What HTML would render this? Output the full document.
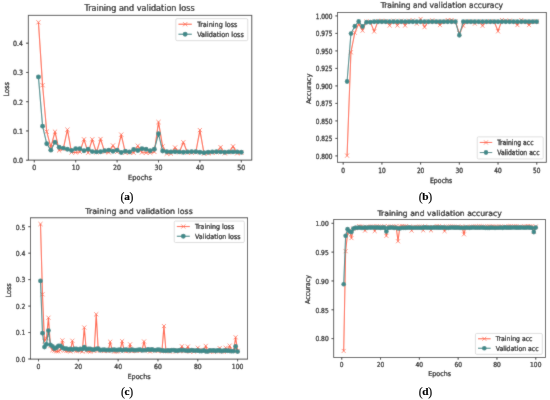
<!DOCTYPE html>
<html lang="en">
<head>
<meta charset="utf-8">
<title>Training and validation curves</title>
<style>
html,body{margin:0;padding:0;background:#fff;}
body{width:550px;height:400px;overflow:hidden;}
svg{display:block;}
</style>
</head>
<body>
<svg width="550" height="400" viewBox="0 0 550 400">
<defs><filter id="soft" x="0" y="0" width="100%" height="100%" filterUnits="userSpaceOnUse"><feConvolveMatrix order="3" kernelMatrix="0.02 0.07 0.02 0.07 0.64 0.07 0.02 0.07 0.02" edgeMode="duplicate" preserveAlpha="true"/></filter></defs>
<rect width="550" height="400" fill="#fff"/>
<g filter="url(#soft)">
<rect width="550" height="400" fill="#fff"/>
<g>
<polyline points="38.44,22.32 42.58,85.2 46.72,131.71 50.86,147.21 55,131.71 59.14,150.43 63.28,148.97 67.42,129.66 71.56,152.48 75.7,152.48 79.84,151.89 83.98,139.32 88.12,152.77 92.26,139.32 96.4,152.48 100.54,139.02 104.68,151.89 108.82,152.48 112.96,145.46 117.1,151.89 121.24,134.64 125.38,152.77 129.52,152.77 133.66,152.77 137.8,145.75 141.94,152.48 146.08,152.77 150.22,152.77 154.36,151.89 158.5,122.06 162.64,146.34 166.78,153.65 170.92,153.65 175.06,147.51 179.2,152.48 183.34,142.24 187.48,152.77 191.62,152.77 195.76,152.48 199.9,130.1 204.04,153.65 208.18,153.36 212.32,152.77 216.46,152.48 220.6,147.21 224.74,153.36 228.88,152.48 233.02,146.34 237.16,153.36 241.3,152.77" fill="none" stroke="#FF6347" stroke-width="1.15" stroke-linejoin="round"/>
<path d="M36.36 20.23l4.16 4.16m-4.16 0l4.16 -4.16M40.5 83.12l4.16 4.16m-4.16 0l4.16 -4.16M44.64 129.63l4.16 4.16m-4.16 0l4.16 -4.16M48.78 145.13l4.16 4.16m-4.16 0l4.16 -4.16M52.92 129.63l4.16 4.16m-4.16 0l4.16 -4.16M57.06 148.35l4.16 4.16m-4.16 0l4.16 -4.16M61.2 146.89l4.16 4.16m-4.16 0l4.16 -4.16M65.34 127.58l4.16 4.16m-4.16 0l4.16 -4.16M69.48 150.4l4.16 4.16m-4.16 0l4.16 -4.16M73.62 150.4l4.16 4.16m-4.16 0l4.16 -4.16M77.76 149.81l4.16 4.16m-4.16 0l4.16 -4.16M81.9 137.23l4.16 4.16m-4.16 0l4.16 -4.16M86.04 150.69l4.16 4.16m-4.16 0l4.16 -4.16M90.18 137.23l4.16 4.16m-4.16 0l4.16 -4.16M94.32 150.4l4.16 4.16m-4.16 0l4.16 -4.16M98.46 136.94l4.16 4.16m-4.16 0l4.16 -4.16M102.6 149.81l4.16 4.16m-4.16 0l4.16 -4.16M106.74 150.4l4.16 4.16m-4.16 0l4.16 -4.16M110.88 143.38l4.16 4.16m-4.16 0l4.16 -4.16M115.02 149.81l4.16 4.16m-4.16 0l4.16 -4.16M119.16 132.55l4.16 4.16m-4.16 0l4.16 -4.16M123.3 150.69l4.16 4.16m-4.16 0l4.16 -4.16M127.44 150.69l4.16 4.16m-4.16 0l4.16 -4.16M131.58 150.69l4.16 4.16m-4.16 0l4.16 -4.16M135.72 143.67l4.16 4.16m-4.16 0l4.16 -4.16M139.86 150.4l4.16 4.16m-4.16 0l4.16 -4.16M144 150.69l4.16 4.16m-4.16 0l4.16 -4.16M148.14 150.69l4.16 4.16m-4.16 0l4.16 -4.16M152.28 149.81l4.16 4.16m-4.16 0l4.16 -4.16M156.42 119.98l4.16 4.16m-4.16 0l4.16 -4.16M160.56 144.25l4.16 4.16m-4.16 0l4.16 -4.16M164.7 151.57l4.16 4.16m-4.16 0l4.16 -4.16M168.84 151.57l4.16 4.16m-4.16 0l4.16 -4.16M172.98 145.42l4.16 4.16m-4.16 0l4.16 -4.16M177.12 150.4l4.16 4.16m-4.16 0l4.16 -4.16M181.26 140.16l4.16 4.16m-4.16 0l4.16 -4.16M185.4 150.69l4.16 4.16m-4.16 0l4.16 -4.16M189.54 150.69l4.16 4.16m-4.16 0l4.16 -4.16M193.68 150.4l4.16 4.16m-4.16 0l4.16 -4.16M197.82 128.02l4.16 4.16m-4.16 0l4.16 -4.16M201.96 151.57l4.16 4.16m-4.16 0l4.16 -4.16M206.1 151.27l4.16 4.16m-4.16 0l4.16 -4.16M210.24 150.69l4.16 4.16m-4.16 0l4.16 -4.16M214.38 150.4l4.16 4.16m-4.16 0l4.16 -4.16M218.52 145.13l4.16 4.16m-4.16 0l4.16 -4.16M222.66 151.27l4.16 4.16m-4.16 0l4.16 -4.16M226.8 150.4l4.16 4.16m-4.16 0l4.16 -4.16M230.94 144.25l4.16 4.16m-4.16 0l4.16 -4.16M235.08 151.27l4.16 4.16m-4.16 0l4.16 -4.16M239.22 150.69l4.16 4.16m-4.16 0l4.16 -4.16" stroke="#FF6347" stroke-width="0.77" fill="none"/>
<polyline points="38.44,77.01 42.58,126.15 46.72,143.7 50.86,150.14 55,142.24 59.14,147.21 63.28,148.09 67.42,149.26 71.56,150.43 75.7,148.82 79.84,148.82 83.98,150.72 88.12,149.26 92.26,151.6 96.4,151.89 100.54,151.75 104.68,150.72 108.82,150.14 112.96,151.31 117.1,150.14 121.24,152.48 125.38,151.31 129.52,151.89 133.66,149.55 137.8,150.43 141.94,148.82 146.08,149.26 150.22,150.72 154.36,149.26 158.5,133.76 162.64,151.02 166.78,151.75 170.92,151.89 175.06,151.75 179.2,151.89 183.34,152.19 187.48,151.89 191.62,151.75 195.76,151.75 199.9,152.19 204.04,152.77 208.18,152.19 212.32,151.89 216.46,151.75 220.6,151.89 224.74,152.19 228.88,151.89 233.02,151.89 237.16,151.89 241.3,152.19" fill="none" stroke="#3F8A8A" stroke-width="1.15" stroke-linejoin="round"/>
<g fill="#3F8A8A">
<ellipse cx="38.44" cy="77.01" rx="2.46" ry="2.46"/>
<ellipse cx="42.58" cy="126.15" rx="2.46" ry="2.46"/>
<ellipse cx="46.72" cy="143.7" rx="2.46" ry="2.46"/>
<ellipse cx="50.86" cy="150.14" rx="2.46" ry="2.46"/>
<ellipse cx="55" cy="142.24" rx="2.46" ry="2.46"/>
<ellipse cx="59.14" cy="147.21" rx="2.46" ry="2.46"/>
<ellipse cx="63.28" cy="148.09" rx="2.46" ry="2.46"/>
<ellipse cx="67.42" cy="149.26" rx="2.46" ry="2.46"/>
<ellipse cx="71.56" cy="150.43" rx="2.46" ry="2.46"/>
<ellipse cx="75.7" cy="148.82" rx="2.46" ry="2.46"/>
<ellipse cx="79.84" cy="148.82" rx="2.46" ry="2.46"/>
<ellipse cx="83.98" cy="150.72" rx="2.46" ry="2.46"/>
<ellipse cx="88.12" cy="149.26" rx="2.46" ry="2.46"/>
<ellipse cx="92.26" cy="151.6" rx="2.46" ry="2.46"/>
<ellipse cx="96.4" cy="151.89" rx="2.46" ry="2.46"/>
<ellipse cx="100.54" cy="151.75" rx="2.46" ry="2.46"/>
<ellipse cx="104.68" cy="150.72" rx="2.46" ry="2.46"/>
<ellipse cx="108.82" cy="150.14" rx="2.46" ry="2.46"/>
<ellipse cx="112.96" cy="151.31" rx="2.46" ry="2.46"/>
<ellipse cx="117.1" cy="150.14" rx="2.46" ry="2.46"/>
<ellipse cx="121.24" cy="152.48" rx="2.46" ry="2.46"/>
<ellipse cx="125.38" cy="151.31" rx="2.46" ry="2.46"/>
<ellipse cx="129.52" cy="151.89" rx="2.46" ry="2.46"/>
<ellipse cx="133.66" cy="149.55" rx="2.46" ry="2.46"/>
<ellipse cx="137.8" cy="150.43" rx="2.46" ry="2.46"/>
<ellipse cx="141.94" cy="148.82" rx="2.46" ry="2.46"/>
<ellipse cx="146.08" cy="149.26" rx="2.46" ry="2.46"/>
<ellipse cx="150.22" cy="150.72" rx="2.46" ry="2.46"/>
<ellipse cx="154.36" cy="149.26" rx="2.46" ry="2.46"/>
<ellipse cx="158.5" cy="133.76" rx="2.46" ry="2.46"/>
<ellipse cx="162.64" cy="151.02" rx="2.46" ry="2.46"/>
<ellipse cx="166.78" cy="151.75" rx="2.46" ry="2.46"/>
<ellipse cx="170.92" cy="151.89" rx="2.46" ry="2.46"/>
<ellipse cx="175.06" cy="151.75" rx="2.46" ry="2.46"/>
<ellipse cx="179.2" cy="151.89" rx="2.46" ry="2.46"/>
<ellipse cx="183.34" cy="152.19" rx="2.46" ry="2.46"/>
<ellipse cx="187.48" cy="151.89" rx="2.46" ry="2.46"/>
<ellipse cx="191.62" cy="151.75" rx="2.46" ry="2.46"/>
<ellipse cx="195.76" cy="151.75" rx="2.46" ry="2.46"/>
<ellipse cx="199.9" cy="152.19" rx="2.46" ry="2.46"/>
<ellipse cx="204.04" cy="152.77" rx="2.46" ry="2.46"/>
<ellipse cx="208.18" cy="152.19" rx="2.46" ry="2.46"/>
<ellipse cx="212.32" cy="151.89" rx="2.46" ry="2.46"/>
<ellipse cx="216.46" cy="151.75" rx="2.46" ry="2.46"/>
<ellipse cx="220.6" cy="151.89" rx="2.46" ry="2.46"/>
<ellipse cx="224.74" cy="152.19" rx="2.46" ry="2.46"/>
<ellipse cx="228.88" cy="151.89" rx="2.46" ry="2.46"/>
<ellipse cx="233.02" cy="151.89" rx="2.46" ry="2.46"/>
<ellipse cx="237.16" cy="151.89" rx="2.46" ry="2.46"/>
<ellipse cx="241.3" cy="152.19" rx="2.46" ry="2.46"/>
</g>
<rect x="28.3" y="15.3" width="223.5" height="144.8" fill="none" stroke="#1a1a1a" stroke-width="0.8"/>
<path d="M34.3 160.1v2.33M75.7 160.1v2.33M117.1 160.1v2.33M158.5 160.1v2.33M199.9 160.1v2.33M241.3 160.1v2.33M28.3 160.2h-2.33M28.3 130.95h-2.33M28.3 101.7h-2.33M28.3 72.45h-2.33M28.3 43.2h-2.33" stroke="#000" stroke-width="0.8" fill="none"/>
<rect x="175.81" y="18.64" width="71.95" height="22.01" rx="1.33" fill="#fff" fill-opacity="0.8" stroke="#ccc" stroke-width="0.67"/>
<path d="M178.48 24.24H191.82" stroke="#FF6347" stroke-width="1.15"/>
<path d="M183.07 22.16l4.16 4.16m-4.16 0l4.16 -4.16" stroke="#FF6347" stroke-width="0.77" fill="none"/>
<path d="M178.48 34.24H191.82" stroke="#3F8A8A" stroke-width="1.15"/>
<ellipse cx="185.15" cy="34.24" rx="2.46" ry="2.46" fill="#3F8A8A"/>
</g>
<g font-family="'DejaVu Sans', 'Liberation Sans', sans-serif" fill="#000" stroke="#000" stroke-width="0.22">
<text transform="translate(34.3 170.32) scale(0.940 1.080)" font-size="6.67" text-anchor="middle">0</text>
<text transform="translate(75.7 170.32) scale(0.940 1.080)" font-size="6.67" text-anchor="middle">10</text>
<text transform="translate(117.1 170.32) scale(0.940 1.080)" font-size="6.67" text-anchor="middle">20</text>
<text transform="translate(158.5 170.32) scale(0.940 1.080)" font-size="6.67" text-anchor="middle">30</text>
<text transform="translate(199.9 170.32) scale(0.940 1.080)" font-size="6.67" text-anchor="middle">40</text>
<text transform="translate(241.3 170.32) scale(0.940 1.080)" font-size="6.67" text-anchor="middle">50</text>
<text transform="translate(23.03 163.13) scale(0.940 1.080)" font-size="6.67" text-anchor="end">0.0</text>
<text transform="translate(23.03 133.88) scale(0.940 1.080)" font-size="6.67" text-anchor="end">0.1</text>
<text transform="translate(23.03 104.63) scale(0.940 1.080)" font-size="6.67" text-anchor="end">0.2</text>
<text transform="translate(23.03 75.38) scale(0.940 1.080)" font-size="6.67" text-anchor="end">0.3</text>
<text transform="translate(23.03 46.13) scale(0.940 1.080)" font-size="6.67" text-anchor="end">0.4</text>
<text transform="translate(139.55 11.3)" font-size="8.08" text-anchor="middle">Training and validation loss</text>
<text transform="translate(140.05 180.11) scale(1.000 1.080)" font-size="6.67" text-anchor="middle">Epochs</text>
<text transform="translate(8.96 89.3) rotate(-90) scale(1.000 1.080)" font-size="6.67" text-anchor="middle">Loss</text>
<text transform="translate(197.16 26.71) scale(0.975 1.080)" font-size="6.67">Training loss</text>
<text transform="translate(197.16 36.71) scale(0.975 1.080)" font-size="6.67">Validation loss</text>
</g>
<g>
<polyline points="347.07,155.62 350.94,52.3 354.81,32.7 358.68,23.88 362.56,30.6 366.43,21.5 370.3,21.85 374.17,31.44 378.04,21.15 381.91,20.8 385.78,21.15 389.65,25.49 393.52,20.8 397.39,25.49 401.26,20.8 405.14,25.49 409.01,20.8 412.88,20.45 416.75,23.6 420.62,19.05 424.49,27.1 428.36,21.5 432.23,20.45 436.1,21.5 439.98,25 443.85,21.5 447.72,20.1 451.59,20.1 455.46,21.5 459.33,33.4 463.2,25.7 467.07,21.5 470.94,21.5 474.81,23.6 478.69,21.5 482.56,25.7 486.43,21.5 490.3,21.5 494.17,21.5 498.04,31.3 501.91,20.1 505.78,20.8 509.65,20.8 513.52,21.5 517.39,25 521.27,20.1 525.14,21.5 529.01,25 532.88,21.5 536.75,21.5" fill="none" stroke="#FF6347" stroke-width="1.08" stroke-linejoin="round"/>
<path d="M345.13 153.53l3.89 4.18m-3.89 0l3.89 -4.18M349 50.21l3.89 4.18m-3.89 0l3.89 -4.18M352.87 30.61l3.89 4.18m-3.89 0l3.89 -4.18M356.74 21.79l3.89 4.18m-3.89 0l3.89 -4.18M360.61 28.51l3.89 4.18m-3.89 0l3.89 -4.18M364.48 19.41l3.89 4.18m-3.89 0l3.89 -4.18M368.35 19.76l3.89 4.18m-3.89 0l3.89 -4.18M372.22 29.35l3.89 4.18m-3.89 0l3.89 -4.18M376.09 19.06l3.89 4.18m-3.89 0l3.89 -4.18M379.96 18.71l3.89 4.18m-3.89 0l3.89 -4.18M383.84 19.06l3.89 4.18m-3.89 0l3.89 -4.18M387.71 23.4l3.89 4.18m-3.89 0l3.89 -4.18M391.58 18.71l3.89 4.18m-3.89 0l3.89 -4.18M395.45 23.4l3.89 4.18m-3.89 0l3.89 -4.18M399.32 18.71l3.89 4.18m-3.89 0l3.89 -4.18M403.19 23.4l3.89 4.18m-3.89 0l3.89 -4.18M407.06 18.71l3.89 4.18m-3.89 0l3.89 -4.18M410.93 18.36l3.89 4.18m-3.89 0l3.89 -4.18M414.8 21.51l3.89 4.18m-3.89 0l3.89 -4.18M418.67 16.96l3.89 4.18m-3.89 0l3.89 -4.18M422.55 25.01l3.89 4.18m-3.89 0l3.89 -4.18M426.42 19.41l3.89 4.18m-3.89 0l3.89 -4.18M430.29 18.36l3.89 4.18m-3.89 0l3.89 -4.18M434.16 19.41l3.89 4.18m-3.89 0l3.89 -4.18M438.03 22.91l3.89 4.18m-3.89 0l3.89 -4.18M441.9 19.41l3.89 4.18m-3.89 0l3.89 -4.18M445.77 18.01l3.89 4.18m-3.89 0l3.89 -4.18M449.64 18.01l3.89 4.18m-3.89 0l3.89 -4.18M453.51 19.41l3.89 4.18m-3.89 0l3.89 -4.18M457.38 31.31l3.89 4.18m-3.89 0l3.89 -4.18M461.26 23.61l3.89 4.18m-3.89 0l3.89 -4.18M465.13 19.41l3.89 4.18m-3.89 0l3.89 -4.18M469 19.41l3.89 4.18m-3.89 0l3.89 -4.18M472.87 21.51l3.89 4.18m-3.89 0l3.89 -4.18M476.74 19.41l3.89 4.18m-3.89 0l3.89 -4.18M480.61 23.61l3.89 4.18m-3.89 0l3.89 -4.18M484.48 19.41l3.89 4.18m-3.89 0l3.89 -4.18M488.35 19.41l3.89 4.18m-3.89 0l3.89 -4.18M492.22 19.41l3.89 4.18m-3.89 0l3.89 -4.18M496.09 29.21l3.89 4.18m-3.89 0l3.89 -4.18M499.97 18.01l3.89 4.18m-3.89 0l3.89 -4.18M503.84 18.71l3.89 4.18m-3.89 0l3.89 -4.18M507.71 18.71l3.89 4.18m-3.89 0l3.89 -4.18M511.58 19.41l3.89 4.18m-3.89 0l3.89 -4.18M515.45 22.91l3.89 4.18m-3.89 0l3.89 -4.18M519.32 18.01l3.89 4.18m-3.89 0l3.89 -4.18M523.19 19.41l3.89 4.18m-3.89 0l3.89 -4.18M527.06 22.91l3.89 4.18m-3.89 0l3.89 -4.18M530.93 19.41l3.89 4.18m-3.89 0l3.89 -4.18M534.8 19.41l3.89 4.18m-3.89 0l3.89 -4.18" stroke="#FF6347" stroke-width="0.72" fill="none"/>
<polyline points="347.07,81.42 350.94,33.61 354.81,26.26 358.68,21.43 362.56,26.4 366.43,22.2 370.3,22.2 374.17,21.85 378.04,21.85 381.91,21.85 385.78,21.85 389.65,21.85 393.52,21.85 397.39,21.85 401.26,21.85 405.14,21.85 409.01,21.85 412.88,21.85 416.75,21.85 420.62,21.85 424.49,21.85 428.36,21.85 432.23,21.85 436.1,21.85 439.98,21.85 443.85,21.85 447.72,21.85 451.59,21.85 455.46,21.85 459.33,35.22 463.2,21.85 467.07,21.85 470.94,21.85 474.81,21.85 478.69,21.85 482.56,21.85 486.43,21.85 490.3,21.85 494.17,21.85 498.04,21.85 501.91,21.85 505.78,21.85 509.65,21.85 513.52,21.85 517.39,21.85 521.27,21.85 525.14,21.85 529.01,21.85 532.88,21.85 536.75,21.85" fill="none" stroke="#3F8A8A" stroke-width="1.08" stroke-linejoin="round"/>
<g fill="#3F8A8A">
<ellipse cx="347.07" cy="81.42" rx="2.3" ry="2.48"/>
<ellipse cx="350.94" cy="33.61" rx="2.3" ry="2.48"/>
<ellipse cx="354.81" cy="26.26" rx="2.3" ry="2.48"/>
<ellipse cx="358.68" cy="21.43" rx="2.3" ry="2.48"/>
<ellipse cx="362.56" cy="26.4" rx="2.3" ry="2.48"/>
<ellipse cx="366.43" cy="22.2" rx="2.3" ry="2.48"/>
<ellipse cx="370.3" cy="22.2" rx="2.3" ry="2.48"/>
<ellipse cx="374.17" cy="21.85" rx="2.3" ry="2.48"/>
<ellipse cx="378.04" cy="21.85" rx="2.3" ry="2.48"/>
<ellipse cx="381.91" cy="21.85" rx="2.3" ry="2.48"/>
<ellipse cx="385.78" cy="21.85" rx="2.3" ry="2.48"/>
<ellipse cx="389.65" cy="21.85" rx="2.3" ry="2.48"/>
<ellipse cx="393.52" cy="21.85" rx="2.3" ry="2.48"/>
<ellipse cx="397.39" cy="21.85" rx="2.3" ry="2.48"/>
<ellipse cx="401.26" cy="21.85" rx="2.3" ry="2.48"/>
<ellipse cx="405.14" cy="21.85" rx="2.3" ry="2.48"/>
<ellipse cx="409.01" cy="21.85" rx="2.3" ry="2.48"/>
<ellipse cx="412.88" cy="21.85" rx="2.3" ry="2.48"/>
<ellipse cx="416.75" cy="21.85" rx="2.3" ry="2.48"/>
<ellipse cx="420.62" cy="21.85" rx="2.3" ry="2.48"/>
<ellipse cx="424.49" cy="21.85" rx="2.3" ry="2.48"/>
<ellipse cx="428.36" cy="21.85" rx="2.3" ry="2.48"/>
<ellipse cx="432.23" cy="21.85" rx="2.3" ry="2.48"/>
<ellipse cx="436.1" cy="21.85" rx="2.3" ry="2.48"/>
<ellipse cx="439.98" cy="21.85" rx="2.3" ry="2.48"/>
<ellipse cx="443.85" cy="21.85" rx="2.3" ry="2.48"/>
<ellipse cx="447.72" cy="21.85" rx="2.3" ry="2.48"/>
<ellipse cx="451.59" cy="21.85" rx="2.3" ry="2.48"/>
<ellipse cx="455.46" cy="21.85" rx="2.3" ry="2.48"/>
<ellipse cx="459.33" cy="35.22" rx="2.3" ry="2.48"/>
<ellipse cx="463.2" cy="21.85" rx="2.3" ry="2.48"/>
<ellipse cx="467.07" cy="21.85" rx="2.3" ry="2.48"/>
<ellipse cx="470.94" cy="21.85" rx="2.3" ry="2.48"/>
<ellipse cx="474.81" cy="21.85" rx="2.3" ry="2.48"/>
<ellipse cx="478.69" cy="21.85" rx="2.3" ry="2.48"/>
<ellipse cx="482.56" cy="21.85" rx="2.3" ry="2.48"/>
<ellipse cx="486.43" cy="21.85" rx="2.3" ry="2.48"/>
<ellipse cx="490.3" cy="21.85" rx="2.3" ry="2.48"/>
<ellipse cx="494.17" cy="21.85" rx="2.3" ry="2.48"/>
<ellipse cx="498.04" cy="21.85" rx="2.3" ry="2.48"/>
<ellipse cx="501.91" cy="21.85" rx="2.3" ry="2.48"/>
<ellipse cx="505.78" cy="21.85" rx="2.3" ry="2.48"/>
<ellipse cx="509.65" cy="21.85" rx="2.3" ry="2.48"/>
<ellipse cx="513.52" cy="21.85" rx="2.3" ry="2.48"/>
<ellipse cx="517.39" cy="21.85" rx="2.3" ry="2.48"/>
<ellipse cx="521.27" cy="21.85" rx="2.3" ry="2.48"/>
<ellipse cx="525.14" cy="21.85" rx="2.3" ry="2.48"/>
<ellipse cx="529.01" cy="21.85" rx="2.3" ry="2.48"/>
<ellipse cx="532.88" cy="21.85" rx="2.3" ry="2.48"/>
<ellipse cx="536.75" cy="21.85" rx="2.3" ry="2.48"/>
</g>
<rect x="337.5" y="12.4" width="208.8" height="149.9" fill="none" stroke="#1a1a1a" stroke-width="0.8"/>
<path d="M343.2 162.3v2.35M381.91 162.3v2.35M420.62 162.3v2.35M459.33 162.3v2.35M498.04 162.3v2.35M536.75 162.3v2.35M337.5 155.9h-2.18M337.5 138.4h-2.18M337.5 120.9h-2.18M337.5 103.4h-2.18M337.5 85.9h-2.18M337.5 68.4h-2.18M337.5 50.9h-2.18M337.5 33.4h-2.18M337.5 15.9h-2.18" stroke="#000" stroke-width="0.8" fill="none"/>
<rect x="477.26" y="136.84" width="65.92" height="22.11" rx="1.25" fill="#fff" fill-opacity="0.8" stroke="#ccc" stroke-width="0.62"/>
<path d="M479.76 142.47H492.23" stroke="#FF6347" stroke-width="1.08"/>
<path d="M484.05 140.38l3.89 4.18m-3.89 0l3.89 -4.18" stroke="#FF6347" stroke-width="0.72" fill="none"/>
<path d="M479.76 152.52H492.23" stroke="#3F8A8A" stroke-width="1.08"/>
<ellipse cx="485.99" cy="152.52" rx="2.3" ry="2.48" fill="#3F8A8A"/>
</g>
<g font-family="'DejaVu Sans', 'Liberation Sans', sans-serif" fill="#000" stroke="#000" stroke-width="0.22">
<text transform="translate(343.2 172.57) scale(0.940 1.160)" font-size="6.24" text-anchor="middle">0</text>
<text transform="translate(381.91 172.57) scale(0.940 1.160)" font-size="6.24" text-anchor="middle">10</text>
<text transform="translate(420.62 172.57) scale(0.940 1.160)" font-size="6.24" text-anchor="middle">20</text>
<text transform="translate(459.33 172.57) scale(0.940 1.160)" font-size="6.24" text-anchor="middle">30</text>
<text transform="translate(498.04 172.57) scale(0.940 1.160)" font-size="6.24" text-anchor="middle">40</text>
<text transform="translate(536.75 172.57) scale(0.940 1.160)" font-size="6.24" text-anchor="middle">50</text>
<text transform="translate(332.53 158.84) scale(0.940 1.160)" font-size="6.24" text-anchor="end">0.800</text>
<text transform="translate(332.53 141.34) scale(0.940 1.160)" font-size="6.24" text-anchor="end">0.825</text>
<text transform="translate(332.53 123.84) scale(0.940 1.160)" font-size="6.24" text-anchor="end">0.850</text>
<text transform="translate(332.53 106.34) scale(0.940 1.160)" font-size="6.24" text-anchor="end">0.875</text>
<text transform="translate(332.53 88.84) scale(0.940 1.160)" font-size="6.24" text-anchor="end">0.900</text>
<text transform="translate(332.53 71.34) scale(0.940 1.160)" font-size="6.24" text-anchor="end">0.925</text>
<text transform="translate(332.53 53.84) scale(0.940 1.160)" font-size="6.24" text-anchor="end">0.950</text>
<text transform="translate(332.53 36.34) scale(0.940 1.160)" font-size="6.24" text-anchor="end">0.975</text>
<text transform="translate(332.53 18.84) scale(0.940 1.160)" font-size="6.24" text-anchor="end">1.000</text>
<text transform="translate(441.9 8.38) scale(1.000 1.074)" font-size="7.56" text-anchor="middle">Training and validation accuracy</text>
<text transform="translate(441.1 182.9) scale(1.000 1.160)" font-size="6.24" text-anchor="middle">Epochs</text>
<text transform="translate(310.87 88.85) rotate(-90) scale(1.000 1.005)" font-size="6.7" text-anchor="middle">Accuracy</text>
<text transform="translate(497.22 144.95) scale(0.975 1.160)" font-size="6.24">Training acc</text>
<text transform="translate(497.22 155) scale(0.975 1.160)" font-size="6.24">Validation acc</text>
</g>
<g>
<polyline points="40.49,224.03 42.48,294.31 44.47,341.14 46.46,338.23 48.45,317.72 50.45,346.17 52.44,350.14 54.43,350.67 56.42,351.31 58.41,351.35 60.4,350.14 62.39,340.35 64.38,350.4 66.37,350.97 68.37,350.71 70.36,351.48 72.35,340.74 74.34,350.35 76.33,350.89 78.32,350.55 80.31,350.66 82.3,351.62 84.29,327.51 86.28,350.79 88.28,351.25 90.27,351.67 92.26,350.35 94.25,350.97 96.24,314.28 98.23,350.33 100.22,350.59 102.21,350.26 104.2,351.1 106.19,350.45 108.19,351.02 110.18,341.77 112.17,350.33 114.16,351.57 116.15,351.51 118.14,351.38 120.13,350.19 122.12,341.14 124.11,350.73 126.1,351.25 128.09,350.92 130.09,344.31 132.08,351.17 134.07,350.79 136.06,350.8 138.05,350.29 140.04,350.64 142.03,350.25 144.02,341.48 146.01,350.15 148,350.66 150,351.46 151.99,350.36 153.98,350.19 155.97,350.29 157.96,350.82 159.95,350.59 161.94,351.39 163.93,326.06 165.92,350.81 167.92,351.27 169.91,351.62 171.9,350.37 173.89,350.15 175.88,351.58 177.87,350.45 179.86,351.07 181.85,346.3 183.84,351.26 185.83,350.5 187.83,346.56 189.82,351.65 191.81,350.75 193.8,351.65 195.79,350.58 197.78,347.75 199.77,350.32 201.76,350.17 203.75,350.92 205.74,345.9 207.74,351.23 209.73,351.6 211.72,350.77 213.71,351.67 215.7,351.41 217.69,351.08 219.68,348.15 221.67,351.48 223.66,351.66 225.65,347.75 227.65,351.23 229.64,345.64 231.63,350.3 233.62,351.12 235.61,337.28 237.6,350.9" fill="none" stroke="#FF6347" stroke-width="1.12" stroke-linejoin="round"/>
<path d="M38.46 222l4.06 4.06m-4.06 0l4.06 -4.06M40.45 292.28l4.06 4.06m-4.06 0l4.06 -4.06M42.45 339.11l4.06 4.06m-4.06 0l4.06 -4.06M44.44 336.2l4.06 4.06m-4.06 0l4.06 -4.06M46.43 315.69l4.06 4.06m-4.06 0l4.06 -4.06M48.42 344.14l4.06 4.06m-4.06 0l4.06 -4.06M50.41 348.11l4.06 4.06m-4.06 0l4.06 -4.06M52.4 348.64l4.06 4.06m-4.06 0l4.06 -4.06M54.39 349.28l4.06 4.06m-4.06 0l4.06 -4.06M56.38 349.32l4.06 4.06m-4.06 0l4.06 -4.06M58.37 348.11l4.06 4.06m-4.06 0l4.06 -4.06M60.36 338.32l4.06 4.06m-4.06 0l4.06 -4.06M62.36 348.37l4.06 4.06m-4.06 0l4.06 -4.06M64.35 348.94l4.06 4.06m-4.06 0l4.06 -4.06M66.34 348.68l4.06 4.06m-4.06 0l4.06 -4.06M68.33 349.46l4.06 4.06m-4.06 0l4.06 -4.06M70.32 338.71l4.06 4.06m-4.06 0l4.06 -4.06M72.31 348.32l4.06 4.06m-4.06 0l4.06 -4.06M74.3 348.86l4.06 4.06m-4.06 0l4.06 -4.06M76.29 348.52l4.06 4.06m-4.06 0l4.06 -4.06M78.28 348.63l4.06 4.06m-4.06 0l4.06 -4.06M80.27 349.59l4.06 4.06m-4.06 0l4.06 -4.06M82.27 325.48l4.06 4.06m-4.06 0l4.06 -4.06M84.26 348.76l4.06 4.06m-4.06 0l4.06 -4.06M86.25 349.22l4.06 4.06m-4.06 0l4.06 -4.06M88.24 349.65l4.06 4.06m-4.06 0l4.06 -4.06M90.23 348.32l4.06 4.06m-4.06 0l4.06 -4.06M92.22 348.94l4.06 4.06m-4.06 0l4.06 -4.06M94.21 312.25l4.06 4.06m-4.06 0l4.06 -4.06M96.2 348.3l4.06 4.06m-4.06 0l4.06 -4.06M98.19 348.56l4.06 4.06m-4.06 0l4.06 -4.06M100.18 348.23l4.06 4.06m-4.06 0l4.06 -4.06M102.17 349.07l4.06 4.06m-4.06 0l4.06 -4.06M104.17 348.42l4.06 4.06m-4.06 0l4.06 -4.06M106.16 348.99l4.06 4.06m-4.06 0l4.06 -4.06M108.15 339.75l4.06 4.06m-4.06 0l4.06 -4.06M110.14 348.3l4.06 4.06m-4.06 0l4.06 -4.06M112.13 349.54l4.06 4.06m-4.06 0l4.06 -4.06M114.12 349.48l4.06 4.06m-4.06 0l4.06 -4.06M116.11 349.35l4.06 4.06m-4.06 0l4.06 -4.06M118.1 348.16l4.06 4.06m-4.06 0l4.06 -4.06M120.09 339.11l4.06 4.06m-4.06 0l4.06 -4.06M122.08 348.7l4.06 4.06m-4.06 0l4.06 -4.06M124.08 349.22l4.06 4.06m-4.06 0l4.06 -4.06M126.07 348.89l4.06 4.06m-4.06 0l4.06 -4.06M128.06 342.29l4.06 4.06m-4.06 0l4.06 -4.06M130.05 349.14l4.06 4.06m-4.06 0l4.06 -4.06M132.04 348.77l4.06 4.06m-4.06 0l4.06 -4.06M134.03 348.77l4.06 4.06m-4.06 0l4.06 -4.06M136.02 348.26l4.06 4.06m-4.06 0l4.06 -4.06M138.01 348.61l4.06 4.06m-4.06 0l4.06 -4.06M140 348.22l4.06 4.06m-4.06 0l4.06 -4.06M142 339.46l4.06 4.06m-4.06 0l4.06 -4.06M143.99 348.12l4.06 4.06m-4.06 0l4.06 -4.06M145.98 348.63l4.06 4.06m-4.06 0l4.06 -4.06M147.97 349.44l4.06 4.06m-4.06 0l4.06 -4.06M149.96 348.33l4.06 4.06m-4.06 0l4.06 -4.06M151.95 348.16l4.06 4.06m-4.06 0l4.06 -4.06M153.94 348.26l4.06 4.06m-4.06 0l4.06 -4.06M155.93 348.79l4.06 4.06m-4.06 0l4.06 -4.06M157.92 348.56l4.06 4.06m-4.06 0l4.06 -4.06M159.91 349.36l4.06 4.06m-4.06 0l4.06 -4.06M161.91 324.03l4.06 4.06m-4.06 0l4.06 -4.06M163.9 348.78l4.06 4.06m-4.06 0l4.06 -4.06M165.89 349.24l4.06 4.06m-4.06 0l4.06 -4.06M167.88 349.59l4.06 4.06m-4.06 0l4.06 -4.06M169.87 348.34l4.06 4.06m-4.06 0l4.06 -4.06M171.86 348.12l4.06 4.06m-4.06 0l4.06 -4.06M173.85 349.55l4.06 4.06m-4.06 0l4.06 -4.06M175.84 348.42l4.06 4.06m-4.06 0l4.06 -4.06M177.83 349.04l4.06 4.06m-4.06 0l4.06 -4.06M179.82 344.27l4.06 4.06m-4.06 0l4.06 -4.06M181.82 349.23l4.06 4.06m-4.06 0l4.06 -4.06M183.81 348.47l4.06 4.06m-4.06 0l4.06 -4.06M185.8 344.54l4.06 4.06m-4.06 0l4.06 -4.06M187.79 349.63l4.06 4.06m-4.06 0l4.06 -4.06M189.78 348.72l4.06 4.06m-4.06 0l4.06 -4.06M191.77 349.62l4.06 4.06m-4.06 0l4.06 -4.06M193.76 348.55l4.06 4.06m-4.06 0l4.06 -4.06M195.75 345.73l4.06 4.06m-4.06 0l4.06 -4.06M197.74 348.3l4.06 4.06m-4.06 0l4.06 -4.06M199.73 348.14l4.06 4.06m-4.06 0l4.06 -4.06M201.73 348.89l4.06 4.06m-4.06 0l4.06 -4.06M203.72 343.87l4.06 4.06m-4.06 0l4.06 -4.06M205.71 349.2l4.06 4.06m-4.06 0l4.06 -4.06M207.7 349.57l4.06 4.06m-4.06 0l4.06 -4.06M209.69 348.74l4.06 4.06m-4.06 0l4.06 -4.06M211.68 349.65l4.06 4.06m-4.06 0l4.06 -4.06M213.67 349.38l4.06 4.06m-4.06 0l4.06 -4.06M215.66 349.05l4.06 4.06m-4.06 0l4.06 -4.06M217.65 346.12l4.06 4.06m-4.06 0l4.06 -4.06M219.64 349.45l4.06 4.06m-4.06 0l4.06 -4.06M221.64 349.63l4.06 4.06m-4.06 0l4.06 -4.06M223.63 345.73l4.06 4.06m-4.06 0l4.06 -4.06M225.62 349.2l4.06 4.06m-4.06 0l4.06 -4.06M227.61 343.61l4.06 4.06m-4.06 0l4.06 -4.06M229.6 348.27l4.06 4.06m-4.06 0l4.06 -4.06M231.59 349.1l4.06 4.06m-4.06 0l4.06 -4.06M233.58 335.25l4.06 4.06m-4.06 0l4.06 -4.06M235.57 348.87l4.06 4.06m-4.06 0l4.06 -4.06" stroke="#FF6347" stroke-width="0.75" fill="none"/>
<polyline points="40.49,280.94 42.48,333.2 44.47,347.04 46.46,344.31 48.45,330.56 50.45,344.84 52.44,346.3 54.43,348.55 56.42,347.75 58.41,345.9 60.4,345.9 62.39,347.75 64.38,348.55 66.37,348.55 68.37,349.34 70.36,348.99 72.35,349.59 74.34,348.95 76.33,348.94 78.32,349.54 80.31,348.94 82.3,349.11 84.29,347.04 86.28,349.23 88.28,348.86 90.27,348.83 92.26,349.58 94.25,349.54 96.24,348.89 98.23,348.59 100.22,350.13 102.21,349.92 104.2,349.77 106.19,350.06 108.19,350.02 110.18,350.07 112.17,350.01 114.16,349.77 116.15,350.08 118.14,350 120.13,349.58 122.12,350.37 124.11,349.8 126.1,349.62 128.09,350.07 130.09,350.16 132.08,349.55 134.07,350.15 136.06,350.2 138.05,349.94 140.04,349.66 142.03,350.29 144.02,350.06 146.01,350.05 148,349.52 150,349.94 151.99,349.5 153.98,350.22 155.97,350.04 157.96,349.71 159.95,349.99 161.94,350.45 163.93,350.69 165.92,350.8 167.92,350.37 169.91,350.73 171.9,350.08 173.89,350.04 175.88,350.74 177.87,350.63 179.86,350.08 181.85,350.25 183.84,350.08 185.83,350.56 187.83,350.79 189.82,350.62 191.81,350.09 193.8,350.64 195.79,350.56 197.78,350.49 199.77,351.01 201.76,351.03 203.75,350.48 205.74,351.29 207.74,351.45 209.73,350.46 211.72,350.53 213.71,350.41 215.7,351 217.69,350.45 219.68,350.48 221.67,351.22 223.66,350.67 225.65,350.57 227.65,350.76 229.64,350.91 231.63,351.15 233.62,351.1 235.61,346.3 237.6,351.56" fill="none" stroke="#3F8A8A" stroke-width="1.12" stroke-linejoin="round"/>
<g fill="#3F8A8A">
<ellipse cx="40.49" cy="280.94" rx="2.4" ry="2.4"/>
<ellipse cx="42.48" cy="333.2" rx="2.4" ry="2.4"/>
<ellipse cx="44.47" cy="347.04" rx="2.4" ry="2.4"/>
<ellipse cx="46.46" cy="344.31" rx="2.4" ry="2.4"/>
<ellipse cx="48.45" cy="330.56" rx="2.4" ry="2.4"/>
<ellipse cx="50.45" cy="344.84" rx="2.4" ry="2.4"/>
<ellipse cx="52.44" cy="346.3" rx="2.4" ry="2.4"/>
<ellipse cx="54.43" cy="348.55" rx="2.4" ry="2.4"/>
<ellipse cx="56.42" cy="347.75" rx="2.4" ry="2.4"/>
<ellipse cx="58.41" cy="345.9" rx="2.4" ry="2.4"/>
<ellipse cx="60.4" cy="345.9" rx="2.4" ry="2.4"/>
<ellipse cx="62.39" cy="347.75" rx="2.4" ry="2.4"/>
<ellipse cx="64.38" cy="348.55" rx="2.4" ry="2.4"/>
<ellipse cx="66.37" cy="348.55" rx="2.4" ry="2.4"/>
<ellipse cx="68.37" cy="349.34" rx="2.4" ry="2.4"/>
<ellipse cx="70.36" cy="348.99" rx="2.4" ry="2.4"/>
<ellipse cx="72.35" cy="349.59" rx="2.4" ry="2.4"/>
<ellipse cx="74.34" cy="348.95" rx="2.4" ry="2.4"/>
<ellipse cx="76.33" cy="348.94" rx="2.4" ry="2.4"/>
<ellipse cx="78.32" cy="349.54" rx="2.4" ry="2.4"/>
<ellipse cx="80.31" cy="348.94" rx="2.4" ry="2.4"/>
<ellipse cx="82.3" cy="349.11" rx="2.4" ry="2.4"/>
<ellipse cx="84.29" cy="347.04" rx="2.4" ry="2.4"/>
<ellipse cx="86.28" cy="349.23" rx="2.4" ry="2.4"/>
<ellipse cx="88.28" cy="348.86" rx="2.4" ry="2.4"/>
<ellipse cx="90.27" cy="348.83" rx="2.4" ry="2.4"/>
<ellipse cx="92.26" cy="349.58" rx="2.4" ry="2.4"/>
<ellipse cx="94.25" cy="349.54" rx="2.4" ry="2.4"/>
<ellipse cx="96.24" cy="348.89" rx="2.4" ry="2.4"/>
<ellipse cx="98.23" cy="348.59" rx="2.4" ry="2.4"/>
<ellipse cx="100.22" cy="350.13" rx="2.4" ry="2.4"/>
<ellipse cx="102.21" cy="349.92" rx="2.4" ry="2.4"/>
<ellipse cx="104.2" cy="349.77" rx="2.4" ry="2.4"/>
<ellipse cx="106.19" cy="350.06" rx="2.4" ry="2.4"/>
<ellipse cx="108.19" cy="350.02" rx="2.4" ry="2.4"/>
<ellipse cx="110.18" cy="350.07" rx="2.4" ry="2.4"/>
<ellipse cx="112.17" cy="350.01" rx="2.4" ry="2.4"/>
<ellipse cx="114.16" cy="349.77" rx="2.4" ry="2.4"/>
<ellipse cx="116.15" cy="350.08" rx="2.4" ry="2.4"/>
<ellipse cx="118.14" cy="350" rx="2.4" ry="2.4"/>
<ellipse cx="120.13" cy="349.58" rx="2.4" ry="2.4"/>
<ellipse cx="122.12" cy="350.37" rx="2.4" ry="2.4"/>
<ellipse cx="124.11" cy="349.8" rx="2.4" ry="2.4"/>
<ellipse cx="126.1" cy="349.62" rx="2.4" ry="2.4"/>
<ellipse cx="128.09" cy="350.07" rx="2.4" ry="2.4"/>
<ellipse cx="130.09" cy="350.16" rx="2.4" ry="2.4"/>
<ellipse cx="132.08" cy="349.55" rx="2.4" ry="2.4"/>
<ellipse cx="134.07" cy="350.15" rx="2.4" ry="2.4"/>
<ellipse cx="136.06" cy="350.2" rx="2.4" ry="2.4"/>
<ellipse cx="138.05" cy="349.94" rx="2.4" ry="2.4"/>
<ellipse cx="140.04" cy="349.66" rx="2.4" ry="2.4"/>
<ellipse cx="142.03" cy="350.29" rx="2.4" ry="2.4"/>
<ellipse cx="144.02" cy="350.06" rx="2.4" ry="2.4"/>
<ellipse cx="146.01" cy="350.05" rx="2.4" ry="2.4"/>
<ellipse cx="148" cy="349.52" rx="2.4" ry="2.4"/>
<ellipse cx="150" cy="349.94" rx="2.4" ry="2.4"/>
<ellipse cx="151.99" cy="349.5" rx="2.4" ry="2.4"/>
<ellipse cx="153.98" cy="350.22" rx="2.4" ry="2.4"/>
<ellipse cx="155.97" cy="350.04" rx="2.4" ry="2.4"/>
<ellipse cx="157.96" cy="349.71" rx="2.4" ry="2.4"/>
<ellipse cx="159.95" cy="349.99" rx="2.4" ry="2.4"/>
<ellipse cx="161.94" cy="350.45" rx="2.4" ry="2.4"/>
<ellipse cx="163.93" cy="350.69" rx="2.4" ry="2.4"/>
<ellipse cx="165.92" cy="350.8" rx="2.4" ry="2.4"/>
<ellipse cx="167.92" cy="350.37" rx="2.4" ry="2.4"/>
<ellipse cx="169.91" cy="350.73" rx="2.4" ry="2.4"/>
<ellipse cx="171.9" cy="350.08" rx="2.4" ry="2.4"/>
<ellipse cx="173.89" cy="350.04" rx="2.4" ry="2.4"/>
<ellipse cx="175.88" cy="350.74" rx="2.4" ry="2.4"/>
<ellipse cx="177.87" cy="350.63" rx="2.4" ry="2.4"/>
<ellipse cx="179.86" cy="350.08" rx="2.4" ry="2.4"/>
<ellipse cx="181.85" cy="350.25" rx="2.4" ry="2.4"/>
<ellipse cx="183.84" cy="350.08" rx="2.4" ry="2.4"/>
<ellipse cx="185.83" cy="350.56" rx="2.4" ry="2.4"/>
<ellipse cx="187.83" cy="350.79" rx="2.4" ry="2.4"/>
<ellipse cx="189.82" cy="350.62" rx="2.4" ry="2.4"/>
<ellipse cx="191.81" cy="350.09" rx="2.4" ry="2.4"/>
<ellipse cx="193.8" cy="350.64" rx="2.4" ry="2.4"/>
<ellipse cx="195.79" cy="350.56" rx="2.4" ry="2.4"/>
<ellipse cx="197.78" cy="350.49" rx="2.4" ry="2.4"/>
<ellipse cx="199.77" cy="351.01" rx="2.4" ry="2.4"/>
<ellipse cx="201.76" cy="351.03" rx="2.4" ry="2.4"/>
<ellipse cx="203.75" cy="350.48" rx="2.4" ry="2.4"/>
<ellipse cx="205.74" cy="351.29" rx="2.4" ry="2.4"/>
<ellipse cx="207.74" cy="351.45" rx="2.4" ry="2.4"/>
<ellipse cx="209.73" cy="350.46" rx="2.4" ry="2.4"/>
<ellipse cx="211.72" cy="350.53" rx="2.4" ry="2.4"/>
<ellipse cx="213.71" cy="350.41" rx="2.4" ry="2.4"/>
<ellipse cx="215.7" cy="351" rx="2.4" ry="2.4"/>
<ellipse cx="217.69" cy="350.45" rx="2.4" ry="2.4"/>
<ellipse cx="219.68" cy="350.48" rx="2.4" ry="2.4"/>
<ellipse cx="221.67" cy="351.22" rx="2.4" ry="2.4"/>
<ellipse cx="223.66" cy="350.67" rx="2.4" ry="2.4"/>
<ellipse cx="225.65" cy="350.57" rx="2.4" ry="2.4"/>
<ellipse cx="227.65" cy="350.76" rx="2.4" ry="2.4"/>
<ellipse cx="229.64" cy="350.91" rx="2.4" ry="2.4"/>
<ellipse cx="231.63" cy="351.15" rx="2.4" ry="2.4"/>
<ellipse cx="233.62" cy="351.1" rx="2.4" ry="2.4"/>
<ellipse cx="235.61" cy="346.3" rx="2.4" ry="2.4"/>
<ellipse cx="237.6" cy="351.56" rx="2.4" ry="2.4"/>
</g>
<rect x="30.5" y="217.8" width="217.1" height="141.3" fill="none" stroke="#1a1a1a" stroke-width="0.8"/>
<path d="M38.5 359.1v2.27M78.32 359.1v2.27M118.14 359.1v2.27M157.96 359.1v2.27M197.78 359.1v2.27M237.6 359.1v2.27M30.5 359h-2.27M30.5 332.54h-2.27M30.5 306.08h-2.27M30.5 279.62h-2.27M30.5 253.16h-2.27M30.5 226.7h-2.27" stroke="#000" stroke-width="0.8" fill="none"/>
<rect x="174.23" y="221.05" width="70.12" height="21.45" rx="1.3" fill="#fff" fill-opacity="0.8" stroke="#ccc" stroke-width="0.65"/>
<path d="M176.83 226.51H189.83" stroke="#FF6347" stroke-width="1.12"/>
<path d="M181.3 224.48l4.06 4.06m-4.06 0l4.06 -4.06" stroke="#FF6347" stroke-width="0.75" fill="none"/>
<path d="M176.83 236.26H189.83" stroke="#3F8A8A" stroke-width="1.12"/>
<ellipse cx="183.33" cy="236.26" rx="2.4" ry="2.4" fill="#3F8A8A"/>
</g>
<g font-family="'DejaVu Sans', 'Liberation Sans', sans-serif" fill="#000" stroke="#000" stroke-width="0.22">
<text transform="translate(38.5 369.47) scale(0.940 1.080)" font-size="6.5" text-anchor="middle">0</text>
<text transform="translate(78.32 369.47) scale(0.940 1.080)" font-size="6.5" text-anchor="middle">20</text>
<text transform="translate(118.14 369.47) scale(0.940 1.080)" font-size="6.5" text-anchor="middle">40</text>
<text transform="translate(157.96 369.47) scale(0.940 1.080)" font-size="6.5" text-anchor="middle">60</text>
<text transform="translate(197.78 369.47) scale(0.940 1.080)" font-size="6.5" text-anchor="middle">80</text>
<text transform="translate(237.6 369.47) scale(0.940 1.080)" font-size="6.5" text-anchor="middle">100</text>
<text transform="translate(25.35 361.86) scale(0.940 1.080)" font-size="6.5" text-anchor="end">0.0</text>
<text transform="translate(25.35 335.4) scale(0.940 1.080)" font-size="6.5" text-anchor="end">0.1</text>
<text transform="translate(25.35 308.94) scale(0.940 1.080)" font-size="6.5" text-anchor="end">0.2</text>
<text transform="translate(25.35 282.48) scale(0.940 1.080)" font-size="6.5" text-anchor="end">0.3</text>
<text transform="translate(25.35 256.02) scale(0.940 1.080)" font-size="6.5" text-anchor="end">0.4</text>
<text transform="translate(25.35 229.56) scale(0.940 1.080)" font-size="6.5" text-anchor="end">0.5</text>
<text transform="translate(139.05 213.9)" font-size="7.88" text-anchor="middle">Training and validation loss</text>
<text transform="translate(139.05 379) scale(1.000 1.080)" font-size="6.5" text-anchor="middle">Epochs</text>
<text transform="translate(11.35 290.45) rotate(-90) scale(1.000 1.080)" font-size="6.5" text-anchor="middle">Loss</text>
<text transform="translate(195.03 228.92) scale(0.975 1.080)" font-size="6.5">Training loss</text>
<text transform="translate(195.03 238.67) scale(0.975 1.080)" font-size="6.5">Validation loss</text>
</g>
<g>
<polyline points="343.69,350.94 345.63,251.2 347.57,233.79 349.51,230.33 351.45,238.12 353.39,228.6 355.33,228.03 357.27,227.45 359.21,226.22 361.15,226.52 363.09,227.04 365.03,230.62 366.97,226.89 368.91,226.77 370.85,226.44 372.79,226.56 374.73,231.08 376.67,226.18 378.61,226.48 380.55,226.73 382.49,226.81 384.43,226.25 386.37,235.87 388.31,226.33 390.25,226.72 392.19,226.87 394.13,226.55 396.07,226.29 398.01,241.29 399.95,226.32 401.89,226.2 403.83,226.3 405.77,226.29 407.71,227.04 409.65,226.47 411.59,230.62 413.53,227 415.47,226.8 417.41,226.8 419.35,226.56 421.29,226.66 423.23,230.33 425.17,226.33 427.11,227.05 429.05,227 430.99,230.33 432.93,226.93 434.87,226.98 436.81,226.15 438.75,226.26 440.69,226.97 442.63,226.58 444.57,231.08 446.51,226.76 448.45,226.72 450.39,226.45 452.33,226.51 454.27,226.71 456.21,226.87 458.15,226.74 460.09,226.93 462.03,226.53 463.97,234.37 465.91,226.7 467.85,226.97 469.79,226.88 471.73,226.7 473.67,226.49 475.61,226.33 477.55,226.7 479.49,226.31 481.43,226.47 483.37,226.65 485.31,226.7 487.25,226.59 489.19,226.4 491.13,226.66 493.07,226.41 495.01,226.62 496.95,226.82 498.89,226.55 500.83,226.41 502.77,226.98 504.71,226.66 506.65,226.65 508.59,226.24 510.53,226.18 512.47,226.7 514.41,226.22 516.35,226.32 518.29,226.81 520.23,226.62 522.17,226.93 524.11,226.3 526.05,226.44 527.99,226.23 529.93,226.32 531.87,226.43 533.81,231.49 535.75,226.53" fill="none" stroke="#FF6347" stroke-width="1.09" stroke-linejoin="round"/>
<path d="M341.72 348.96l3.95 3.95m-3.95 0l3.95 -3.95M343.66 249.23l3.95 3.95m-3.95 0l3.95 -3.95M345.6 231.82l3.95 3.95m-3.95 0l3.95 -3.95M347.54 228.36l3.95 3.95m-3.95 0l3.95 -3.95M349.48 236.14l3.95 3.95m-3.95 0l3.95 -3.95M351.42 226.63l3.95 3.95m-3.95 0l3.95 -3.95M353.36 226.05l3.95 3.95m-3.95 0l3.95 -3.95M355.3 225.48l3.95 3.95m-3.95 0l3.95 -3.95M357.24 224.24l3.95 3.95m-3.95 0l3.95 -3.95M359.18 224.54l3.95 3.95m-3.95 0l3.95 -3.95M361.12 225.06l3.95 3.95m-3.95 0l3.95 -3.95M363.06 228.65l3.95 3.95m-3.95 0l3.95 -3.95M365 224.91l3.95 3.95m-3.95 0l3.95 -3.95M366.94 224.8l3.95 3.95m-3.95 0l3.95 -3.95M368.88 224.46l3.95 3.95m-3.95 0l3.95 -3.95M370.82 224.59l3.95 3.95m-3.95 0l3.95 -3.95M372.76 229.11l3.95 3.95m-3.95 0l3.95 -3.95M374.7 224.21l3.95 3.95m-3.95 0l3.95 -3.95M376.64 224.51l3.95 3.95m-3.95 0l3.95 -3.95M378.58 224.76l3.95 3.95m-3.95 0l3.95 -3.95M380.52 224.84l3.95 3.95m-3.95 0l3.95 -3.95M382.46 224.28l3.95 3.95m-3.95 0l3.95 -3.95M384.4 233.89l3.95 3.95m-3.95 0l3.95 -3.95M386.34 224.35l3.95 3.95m-3.95 0l3.95 -3.95M388.28 224.75l3.95 3.95m-3.95 0l3.95 -3.95M390.22 224.89l3.95 3.95m-3.95 0l3.95 -3.95M392.16 224.58l3.95 3.95m-3.95 0l3.95 -3.95M394.1 224.32l3.95 3.95m-3.95 0l3.95 -3.95M396.04 239.31l3.95 3.95m-3.95 0l3.95 -3.95M397.98 224.34l3.95 3.95m-3.95 0l3.95 -3.95M399.92 224.22l3.95 3.95m-3.95 0l3.95 -3.95M401.86 224.33l3.95 3.95m-3.95 0l3.95 -3.95M403.8 224.31l3.95 3.95m-3.95 0l3.95 -3.95M405.74 225.07l3.95 3.95m-3.95 0l3.95 -3.95M407.68 224.49l3.95 3.95m-3.95 0l3.95 -3.95M409.62 228.65l3.95 3.95m-3.95 0l3.95 -3.95M411.56 225.03l3.95 3.95m-3.95 0l3.95 -3.95M413.5 224.82l3.95 3.95m-3.95 0l3.95 -3.95M415.44 224.82l3.95 3.95m-3.95 0l3.95 -3.95M417.38 224.59l3.95 3.95m-3.95 0l3.95 -3.95M419.32 224.68l3.95 3.95m-3.95 0l3.95 -3.95M421.26 228.36l3.95 3.95m-3.95 0l3.95 -3.95M423.2 224.36l3.95 3.95m-3.95 0l3.95 -3.95M425.14 225.07l3.95 3.95m-3.95 0l3.95 -3.95M427.08 225.02l3.95 3.95m-3.95 0l3.95 -3.95M429.02 228.36l3.95 3.95m-3.95 0l3.95 -3.95M430.96 224.96l3.95 3.95m-3.95 0l3.95 -3.95M432.9 225.01l3.95 3.95m-3.95 0l3.95 -3.95M434.84 224.17l3.95 3.95m-3.95 0l3.95 -3.95M436.78 224.28l3.95 3.95m-3.95 0l3.95 -3.95M438.72 224.99l3.95 3.95m-3.95 0l3.95 -3.95M440.66 224.61l3.95 3.95m-3.95 0l3.95 -3.95M442.6 229.11l3.95 3.95m-3.95 0l3.95 -3.95M444.54 224.78l3.95 3.95m-3.95 0l3.95 -3.95M446.48 224.75l3.95 3.95m-3.95 0l3.95 -3.95M448.42 224.48l3.95 3.95m-3.95 0l3.95 -3.95M450.36 224.53l3.95 3.95m-3.95 0l3.95 -3.95M452.3 224.74l3.95 3.95m-3.95 0l3.95 -3.95M454.24 224.9l3.95 3.95m-3.95 0l3.95 -3.95M456.18 224.77l3.95 3.95m-3.95 0l3.95 -3.95M458.12 224.96l3.95 3.95m-3.95 0l3.95 -3.95M460.06 224.56l3.95 3.95m-3.95 0l3.95 -3.95M462 232.39l3.95 3.95m-3.95 0l3.95 -3.95M463.94 224.72l3.95 3.95m-3.95 0l3.95 -3.95M465.88 225l3.95 3.95m-3.95 0l3.95 -3.95M467.82 224.91l3.95 3.95m-3.95 0l3.95 -3.95M469.76 224.73l3.95 3.95m-3.95 0l3.95 -3.95M471.7 224.51l3.95 3.95m-3.95 0l3.95 -3.95M473.64 224.35l3.95 3.95m-3.95 0l3.95 -3.95M475.58 224.72l3.95 3.95m-3.95 0l3.95 -3.95M477.52 224.33l3.95 3.95m-3.95 0l3.95 -3.95M479.46 224.5l3.95 3.95m-3.95 0l3.95 -3.95M481.4 224.67l3.95 3.95m-3.95 0l3.95 -3.95M483.34 224.73l3.95 3.95m-3.95 0l3.95 -3.95M485.28 224.61l3.95 3.95m-3.95 0l3.95 -3.95M487.22 224.42l3.95 3.95m-3.95 0l3.95 -3.95M489.16 224.68l3.95 3.95m-3.95 0l3.95 -3.95M491.1 224.43l3.95 3.95m-3.95 0l3.95 -3.95M493.04 224.65l3.95 3.95m-3.95 0l3.95 -3.95M494.98 224.85l3.95 3.95m-3.95 0l3.95 -3.95M496.92 224.58l3.95 3.95m-3.95 0l3.95 -3.95M498.86 224.43l3.95 3.95m-3.95 0l3.95 -3.95M500.8 225.01l3.95 3.95m-3.95 0l3.95 -3.95M502.74 224.68l3.95 3.95m-3.95 0l3.95 -3.95M504.68 224.68l3.95 3.95m-3.95 0l3.95 -3.95M506.62 224.26l3.95 3.95m-3.95 0l3.95 -3.95M508.56 224.21l3.95 3.95m-3.95 0l3.95 -3.95M510.5 224.73l3.95 3.95m-3.95 0l3.95 -3.95M512.44 224.24l3.95 3.95m-3.95 0l3.95 -3.95M514.38 224.34l3.95 3.95m-3.95 0l3.95 -3.95M516.32 224.83l3.95 3.95m-3.95 0l3.95 -3.95M518.26 224.64l3.95 3.95m-3.95 0l3.95 -3.95M520.2 224.96l3.95 3.95m-3.95 0l3.95 -3.95M522.14 224.32l3.95 3.95m-3.95 0l3.95 -3.95M524.08 224.46l3.95 3.95m-3.95 0l3.95 -3.95M526.02 224.25l3.95 3.95m-3.95 0l3.95 -3.95M527.96 224.34l3.95 3.95m-3.95 0l3.95 -3.95M529.9 224.46l3.95 3.95m-3.95 0l3.95 -3.95M531.84 229.51l3.95 3.95m-3.95 0l3.95 -3.95M533.78 224.55l3.95 3.95m-3.95 0l3.95 -3.95" stroke="#FF6347" stroke-width="0.73" fill="none"/>
<polyline points="343.69,284.24 345.63,235.87 347.57,229.18 349.51,231.49 351.45,232.06 353.39,228.6 355.33,227.87 357.27,227.87 359.21,227.51 361.15,227.83 363.09,227.9 365.03,227.52 366.97,227.86 368.91,227.52 370.85,227.6 372.79,227.53 374.73,227.47 376.67,227.64 378.61,227.54 380.55,227.9 382.49,227.56 384.43,227.68 386.37,231.49 388.31,227.86 390.25,227.57 392.19,227.48 394.13,227.88 396.07,227.76 398.01,228.32 399.95,228.32 401.89,227.8 403.83,227.83 405.77,227.8 407.71,227.63 409.65,227.56 411.59,227.73 413.53,227.74 415.47,227.73 417.41,227.75 419.35,227.72 421.29,227.87 423.23,227.68 425.17,227.46 427.11,227.72 429.05,227.57 430.99,227.84 432.93,227.59 434.87,227.56 436.81,227.6 438.75,227.67 440.69,227.69 442.63,227.62 444.57,227.5 446.51,227.84 448.45,227.87 450.39,227.57 452.33,227.49 454.27,227.67 456.21,227.71 458.15,227.58 460.09,227.83 462.03,227.79 463.97,227.82 465.91,227.64 467.85,227.77 469.79,227.8 471.73,227.59 473.67,227.47 475.61,227.78 477.55,227.59 479.49,227.72 481.43,227.52 483.37,227.64 485.31,227.79 487.25,227.81 489.19,227.9 491.13,227.69 493.07,227.74 495.01,227.83 496.95,227.75 498.89,227.76 500.83,227.55 502.77,227.85 504.71,227.45 506.65,227.69 508.59,227.64 510.53,227.7 512.47,227.53 514.41,227.53 516.35,227.66 518.29,227.69 520.23,227.58 522.17,227.52 524.11,227.73 526.05,227.57 527.99,227.47 529.93,227.7 531.87,227.81 533.81,232.06 535.75,227.58" fill="none" stroke="#3F8A8A" stroke-width="1.09" stroke-linejoin="round"/>
<g fill="#3F8A8A">
<ellipse cx="343.69" cy="284.24" rx="2.34" ry="2.34"/>
<ellipse cx="345.63" cy="235.87" rx="2.34" ry="2.34"/>
<ellipse cx="347.57" cy="229.18" rx="2.34" ry="2.34"/>
<ellipse cx="349.51" cy="231.49" rx="2.34" ry="2.34"/>
<ellipse cx="351.45" cy="232.06" rx="2.34" ry="2.34"/>
<ellipse cx="353.39" cy="228.6" rx="2.34" ry="2.34"/>
<ellipse cx="355.33" cy="227.87" rx="2.34" ry="2.34"/>
<ellipse cx="357.27" cy="227.87" rx="2.34" ry="2.34"/>
<ellipse cx="359.21" cy="227.51" rx="2.34" ry="2.34"/>
<ellipse cx="361.15" cy="227.83" rx="2.34" ry="2.34"/>
<ellipse cx="363.09" cy="227.9" rx="2.34" ry="2.34"/>
<ellipse cx="365.03" cy="227.52" rx="2.34" ry="2.34"/>
<ellipse cx="366.97" cy="227.86" rx="2.34" ry="2.34"/>
<ellipse cx="368.91" cy="227.52" rx="2.34" ry="2.34"/>
<ellipse cx="370.85" cy="227.6" rx="2.34" ry="2.34"/>
<ellipse cx="372.79" cy="227.53" rx="2.34" ry="2.34"/>
<ellipse cx="374.73" cy="227.47" rx="2.34" ry="2.34"/>
<ellipse cx="376.67" cy="227.64" rx="2.34" ry="2.34"/>
<ellipse cx="378.61" cy="227.54" rx="2.34" ry="2.34"/>
<ellipse cx="380.55" cy="227.9" rx="2.34" ry="2.34"/>
<ellipse cx="382.49" cy="227.56" rx="2.34" ry="2.34"/>
<ellipse cx="384.43" cy="227.68" rx="2.34" ry="2.34"/>
<ellipse cx="386.37" cy="231.49" rx="2.34" ry="2.34"/>
<ellipse cx="388.31" cy="227.86" rx="2.34" ry="2.34"/>
<ellipse cx="390.25" cy="227.57" rx="2.34" ry="2.34"/>
<ellipse cx="392.19" cy="227.48" rx="2.34" ry="2.34"/>
<ellipse cx="394.13" cy="227.88" rx="2.34" ry="2.34"/>
<ellipse cx="396.07" cy="227.76" rx="2.34" ry="2.34"/>
<ellipse cx="398.01" cy="228.32" rx="2.34" ry="2.34"/>
<ellipse cx="399.95" cy="228.32" rx="2.34" ry="2.34"/>
<ellipse cx="401.89" cy="227.8" rx="2.34" ry="2.34"/>
<ellipse cx="403.83" cy="227.83" rx="2.34" ry="2.34"/>
<ellipse cx="405.77" cy="227.8" rx="2.34" ry="2.34"/>
<ellipse cx="407.71" cy="227.63" rx="2.34" ry="2.34"/>
<ellipse cx="409.65" cy="227.56" rx="2.34" ry="2.34"/>
<ellipse cx="411.59" cy="227.73" rx="2.34" ry="2.34"/>
<ellipse cx="413.53" cy="227.74" rx="2.34" ry="2.34"/>
<ellipse cx="415.47" cy="227.73" rx="2.34" ry="2.34"/>
<ellipse cx="417.41" cy="227.75" rx="2.34" ry="2.34"/>
<ellipse cx="419.35" cy="227.72" rx="2.34" ry="2.34"/>
<ellipse cx="421.29" cy="227.87" rx="2.34" ry="2.34"/>
<ellipse cx="423.23" cy="227.68" rx="2.34" ry="2.34"/>
<ellipse cx="425.17" cy="227.46" rx="2.34" ry="2.34"/>
<ellipse cx="427.11" cy="227.72" rx="2.34" ry="2.34"/>
<ellipse cx="429.05" cy="227.57" rx="2.34" ry="2.34"/>
<ellipse cx="430.99" cy="227.84" rx="2.34" ry="2.34"/>
<ellipse cx="432.93" cy="227.59" rx="2.34" ry="2.34"/>
<ellipse cx="434.87" cy="227.56" rx="2.34" ry="2.34"/>
<ellipse cx="436.81" cy="227.6" rx="2.34" ry="2.34"/>
<ellipse cx="438.75" cy="227.67" rx="2.34" ry="2.34"/>
<ellipse cx="440.69" cy="227.69" rx="2.34" ry="2.34"/>
<ellipse cx="442.63" cy="227.62" rx="2.34" ry="2.34"/>
<ellipse cx="444.57" cy="227.5" rx="2.34" ry="2.34"/>
<ellipse cx="446.51" cy="227.84" rx="2.34" ry="2.34"/>
<ellipse cx="448.45" cy="227.87" rx="2.34" ry="2.34"/>
<ellipse cx="450.39" cy="227.57" rx="2.34" ry="2.34"/>
<ellipse cx="452.33" cy="227.49" rx="2.34" ry="2.34"/>
<ellipse cx="454.27" cy="227.67" rx="2.34" ry="2.34"/>
<ellipse cx="456.21" cy="227.71" rx="2.34" ry="2.34"/>
<ellipse cx="458.15" cy="227.58" rx="2.34" ry="2.34"/>
<ellipse cx="460.09" cy="227.83" rx="2.34" ry="2.34"/>
<ellipse cx="462.03" cy="227.79" rx="2.34" ry="2.34"/>
<ellipse cx="463.97" cy="227.82" rx="2.34" ry="2.34"/>
<ellipse cx="465.91" cy="227.64" rx="2.34" ry="2.34"/>
<ellipse cx="467.85" cy="227.77" rx="2.34" ry="2.34"/>
<ellipse cx="469.79" cy="227.8" rx="2.34" ry="2.34"/>
<ellipse cx="471.73" cy="227.59" rx="2.34" ry="2.34"/>
<ellipse cx="473.67" cy="227.47" rx="2.34" ry="2.34"/>
<ellipse cx="475.61" cy="227.78" rx="2.34" ry="2.34"/>
<ellipse cx="477.55" cy="227.59" rx="2.34" ry="2.34"/>
<ellipse cx="479.49" cy="227.72" rx="2.34" ry="2.34"/>
<ellipse cx="481.43" cy="227.52" rx="2.34" ry="2.34"/>
<ellipse cx="483.37" cy="227.64" rx="2.34" ry="2.34"/>
<ellipse cx="485.31" cy="227.79" rx="2.34" ry="2.34"/>
<ellipse cx="487.25" cy="227.81" rx="2.34" ry="2.34"/>
<ellipse cx="489.19" cy="227.9" rx="2.34" ry="2.34"/>
<ellipse cx="491.13" cy="227.69" rx="2.34" ry="2.34"/>
<ellipse cx="493.07" cy="227.74" rx="2.34" ry="2.34"/>
<ellipse cx="495.01" cy="227.83" rx="2.34" ry="2.34"/>
<ellipse cx="496.95" cy="227.75" rx="2.34" ry="2.34"/>
<ellipse cx="498.89" cy="227.76" rx="2.34" ry="2.34"/>
<ellipse cx="500.83" cy="227.55" rx="2.34" ry="2.34"/>
<ellipse cx="502.77" cy="227.85" rx="2.34" ry="2.34"/>
<ellipse cx="504.71" cy="227.45" rx="2.34" ry="2.34"/>
<ellipse cx="506.65" cy="227.69" rx="2.34" ry="2.34"/>
<ellipse cx="508.59" cy="227.64" rx="2.34" ry="2.34"/>
<ellipse cx="510.53" cy="227.7" rx="2.34" ry="2.34"/>
<ellipse cx="512.47" cy="227.53" rx="2.34" ry="2.34"/>
<ellipse cx="514.41" cy="227.53" rx="2.34" ry="2.34"/>
<ellipse cx="516.35" cy="227.66" rx="2.34" ry="2.34"/>
<ellipse cx="518.29" cy="227.69" rx="2.34" ry="2.34"/>
<ellipse cx="520.23" cy="227.58" rx="2.34" ry="2.34"/>
<ellipse cx="522.17" cy="227.52" rx="2.34" ry="2.34"/>
<ellipse cx="524.11" cy="227.73" rx="2.34" ry="2.34"/>
<ellipse cx="526.05" cy="227.57" rx="2.34" ry="2.34"/>
<ellipse cx="527.99" cy="227.47" rx="2.34" ry="2.34"/>
<ellipse cx="529.93" cy="227.7" rx="2.34" ry="2.34"/>
<ellipse cx="531.87" cy="227.81" rx="2.34" ry="2.34"/>
<ellipse cx="533.81" cy="232.06" rx="2.34" ry="2.34"/>
<ellipse cx="535.75" cy="227.58" rx="2.34" ry="2.34"/>
</g>
<rect x="333.7" y="219.5" width="211.8" height="138" fill="none" stroke="#1a1a1a" stroke-width="0.8"/>
<path d="M341.75 357.5v2.22M380.55 357.5v2.22M419.35 357.5v2.22M458.15 357.5v2.22M496.95 357.5v2.22M535.75 357.5v2.22M333.7 338.6h-2.22M333.7 309.77h-2.22M333.7 280.95h-2.22M333.7 252.12h-2.22M333.7 223.3h-2.22" stroke="#000" stroke-width="0.8" fill="none"/>
<rect x="475.43" y="333.45" width="66.9" height="20.89" rx="1.27" fill="#fff" fill-opacity="0.8" stroke="#ccc" stroke-width="0.63"/>
<path d="M477.97 338.76H490.63" stroke="#FF6347" stroke-width="1.09"/>
<path d="M482.32 336.79l3.95 3.95m-3.95 0l3.95 -3.95" stroke="#FF6347" stroke-width="0.73" fill="none"/>
<path d="M477.97 348.26H490.63" stroke="#3F8A8A" stroke-width="1.09"/>
<ellipse cx="484.3" cy="348.26" rx="2.34" ry="2.34" fill="#3F8A8A"/>
</g>
<g font-family="'DejaVu Sans', 'Liberation Sans', sans-serif" fill="#000" stroke="#000" stroke-width="0.22">
<text transform="translate(341.75 367.21) scale(0.940 1.080)" font-size="6.33" text-anchor="middle">0</text>
<text transform="translate(380.55 367.21) scale(0.940 1.080)" font-size="6.33" text-anchor="middle">20</text>
<text transform="translate(419.35 367.21) scale(0.940 1.080)" font-size="6.33" text-anchor="middle">40</text>
<text transform="translate(458.15 367.21) scale(0.940 1.080)" font-size="6.33" text-anchor="middle">60</text>
<text transform="translate(496.95 367.21) scale(0.940 1.080)" font-size="6.33" text-anchor="middle">80</text>
<text transform="translate(535.75 367.21) scale(0.940 1.080)" font-size="6.33" text-anchor="middle">100</text>
<text transform="translate(328.67 341.39) scale(0.940 1.080)" font-size="6.33" text-anchor="end">0.80</text>
<text transform="translate(328.67 312.57) scale(0.940 1.080)" font-size="6.33" text-anchor="end">0.85</text>
<text transform="translate(328.67 283.74) scale(0.940 1.080)" font-size="6.33" text-anchor="end">0.90</text>
<text transform="translate(328.67 254.92) scale(0.940 1.080)" font-size="6.33" text-anchor="end">0.95</text>
<text transform="translate(328.67 226.09) scale(0.940 1.080)" font-size="6.33" text-anchor="end">1.00</text>
<text transform="translate(439.6 216.2)" font-size="7.67" text-anchor="middle">Training and validation accuracy</text>
<text transform="translate(439.6 376.49) scale(1.000 1.080)" font-size="6.33" text-anchor="middle">Epochs</text>
<text transform="translate(309.71 289.5) rotate(-90) scale(1.000 1.080)" font-size="6.33" text-anchor="middle">Accuracy</text>
<text transform="translate(495.69 341.41) scale(0.975 1.080)" font-size="6.33">Training acc</text>
<text transform="translate(495.69 350.9) scale(0.975 1.080)" font-size="6.33">Validation acc</text>
</g>
</g>
<text x="127" y="199.9" text-anchor="middle" font-family="'Liberation Serif', serif" fill="#000" stroke="#000" stroke-width="0.15"><tspan font-size="11.7" dy="0.6">(</tspan><tspan font-size="11.3" font-weight="bold" dy="-0.6" dx="-0.3">a</tspan><tspan font-size="11.7" dy="0.6" dx="-0.3">)</tspan></text>
<text x="425.5" y="199.9" text-anchor="middle" font-family="'Liberation Serif', serif" fill="#000" stroke="#000" stroke-width="0.15"><tspan font-size="11.7" dy="0.6">(</tspan><tspan font-size="11.3" font-weight="bold" dy="-0.6" dx="-0.3">b</tspan><tspan font-size="11.7" dy="0.6" dx="-0.3">)</tspan></text>
<text x="127" y="395.2" text-anchor="middle" font-family="'Liberation Serif', serif" fill="#000" stroke="#000" stroke-width="0.15"><tspan font-size="11.7" dy="0.6">(</tspan><tspan font-size="11.3" font-weight="bold" dy="-0.6" dx="-0.3">c</tspan><tspan font-size="11.7" dy="0.6" dx="-0.3">)</tspan></text>
<text x="425.5" y="395.2" text-anchor="middle" font-family="'Liberation Serif', serif" fill="#000" stroke="#000" stroke-width="0.15"><tspan font-size="11.7" dy="0.6">(</tspan><tspan font-size="11.3" font-weight="bold" dy="-0.6" dx="-0.3">d</tspan><tspan font-size="11.7" dy="0.6" dx="-0.3">)</tspan></text>
</svg>
</body>
</html>
